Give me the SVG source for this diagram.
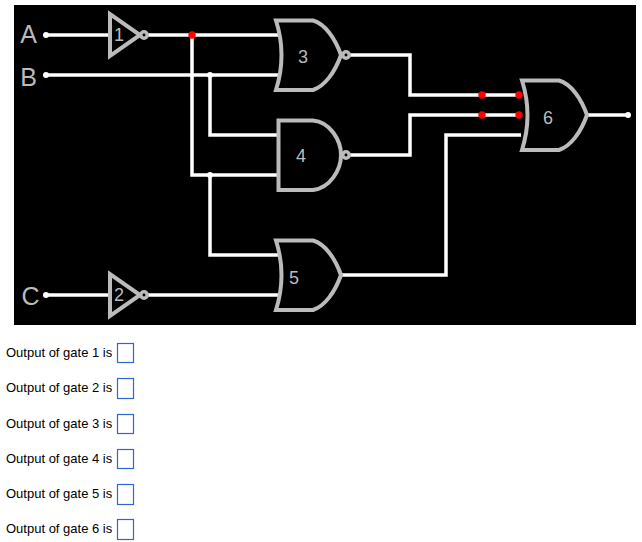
<svg xmlns="http://www.w3.org/2000/svg" width="642" height="542" viewBox="0 0 642 542">
<style>
.w{fill:none;stroke:#fff;stroke-width:3.500}
.g{fill:#000;stroke:#bbb;stroke-width:4}
.b{fill:#000;stroke:#bbb;stroke-width:3.500}
.l{font-family:"Liberation Sans",Arial,sans-serif;fill:#bbb;font-size:18px;text-anchor:middle}
.i{font-family:"Liberation Sans",Arial,sans-serif;fill:#bbb;font-size:25px;text-anchor:middle}
.t{font-family:"Liberation Sans",Arial,sans-serif;fill:#000;font-size:13px}
.x{fill:#fff;stroke:#3366cc;stroke-width:1.200}
</style>
<defs>
<path id="or" d="M-1 0.500H36C48 4 58 18 64 35C58 52 48 66 36 70H-1Q10 35-1 0.500Z"/>
</defs>
<rect width="642" height="542" fill="#fff"/>
<rect x="14" y="5" width="622" height="320" fill="#000"/>
<g id="connectors">
<path class="w" d="M46 35H110M148 35H278M46 75H278M46 295H110M148 295H278"/>
<path class="w" d="M192 35V175H278M210 75V135H278M210 175V255H278"/>
<path class="w" d="M350 55H410V95H521M350 155H410V115H521M341 275H446V135H521M587 115H628"/>
<circle cx="46" cy="35" r="3" fill="#fff"/>
<circle cx="46" cy="75" r="3" fill="#fff"/>
<circle cx="46" cy="295" r="3" fill="#fff"/>
<circle cx="628" cy="115" r="3" fill="#fff"/>
<circle cx="210" cy="75" r="3" fill="#fff"/>
<circle cx="210" cy="175" r="3" fill="#fff"/>
<g fill="#f00">
<circle cx="192" cy="35" r="3.700"/>
<circle cx="482" cy="95" r="3.700"/>
<circle cx="519" cy="95" r="3.700"/>
<circle cx="482" cy="115" r="3.700"/>
<circle cx="519" cy="115" r="3.700"/>
</g>
</g>
<g id="inputA"><text class="i" x="28.500" y="43">A</text></g>
<g id="inputB"><text class="i" x="28.500" y="86">B</text></g>
<g id="inputC"><text class="i" x="30.500" y="305">C</text></g>
<g id="gate1"><path class="g" d="M110 14V56L140 35Z"/><circle class="b" cx="144" cy="35" r="3.200"/><text class="l" x="119" y="41">1</text></g>
<g id="gate2"><path class="g" d="M110 274V316L140 295Z"/><circle class="b" cx="144" cy="295" r="3.200"/><text class="l" x="119" y="301">2</text></g>
<g id="gate3"><use href="#or" class="g" x="277" y="20"/><circle class="b" cx="346" cy="55" r="3.200"/><text class="l" x="303" y="63">3</text></g>
<g id="gate4"><path class="g" d="M278.500 120.500H313C330 122 341 140 341 155C341 170 330 188 313 190H278.500Z"/><circle class="b" cx="346" cy="155" r="3.200"/><text class="l" x="301" y="162">4</text></g>
<g id="gate5"><use href="#or" class="g" x="277" y="240"/><text class="l" x="294" y="284">5</text></g>
<g id="gate6"><use href="#or" class="g" x="523" y="80"/><text class="l" x="548" y="124">6</text></g>
<g id="q1"><text class="t" x="6" y="357">Output of gate 1 is</text><rect class="x" x="117.500" y="343.500" width="16" height="19"/></g>
<g id="q2"><text class="t" x="6" y="392">Output of gate 2 is</text><rect class="x" x="117.500" y="378.500" width="16" height="20"/></g>
<g id="q3"><text class="t" x="6" y="428">Output of gate 3 is</text><rect class="x" x="117.500" y="414.500" width="16" height="19"/></g>
<g id="q4"><text class="t" x="6" y="463">Output of gate 4 is</text><rect class="x" x="117.500" y="449.500" width="16" height="19"/></g>
<g id="q5"><text class="t" x="6" y="498">Output of gate 5 is</text><rect class="x" x="117.500" y="484.500" width="16" height="20"/></g>
<g id="q6"><text class="t" x="6" y="533">Output of gate 6 is</text><rect class="x" x="117.500" y="519.500" width="16" height="20"/></g>
</svg>
